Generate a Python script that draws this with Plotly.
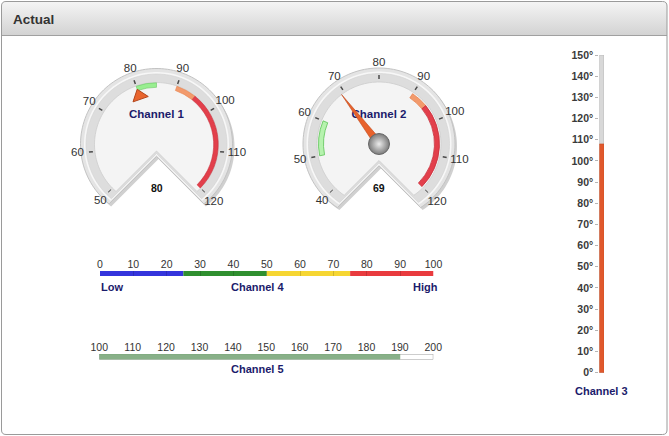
import numpy as np
import plotly.graph_objects as go

W, H = 669, 436
FONT = "Liberation Sans, Arial, sans-serif"
NAVY = "#1b1b6b"

# ---- data ----
# channel 1 (round gauge with pointer)
g1_ticks = [50, 60, 70, 80, 90, 100, 110, 120]
g1_value = 80
g1_band_from = [80, 90, 95]
g1_band_to = [85, 95, 120]
g1_band_colors = ["#98ee90", "#f29a6c", "#e23f4b"]

# channel 2 (round gauge with needle)
g2_ticks = [40, 50, 60, 70, 80, 90, 100, 110, 120]
g2_value = 69
g2_band_from = [50, 90, 95]
g2_band_to = [60, 95, 120]
g2_band_colors = ["#b6f2ae", "#f29a6c", "#e23f4b"]

# channel 4 (horizontal linear gauge)
ch4_ticks = [0, 10, 20, 30, 40, 50, 60, 70, 80, 90, 100]
ch4_from = [0, 25, 50, 75]
ch4_to = [25, 50, 75, 100]
ch4_colors = ["#3434dc", "#2f8f2f", "#f6d632", "#e93b3e"]
ch4_value = 35

# channel 5 (horizontal progress bar)
ch5_ticks = [100, 110, 120, 130, 140, 150, 160, 170, 180, 190, 200]
ch5_value = 190

# channel 3 (thermometer)
ch3_ticks = [0, 10, 20, 30, 40, 50, 60, 70, 80, 90, 100, 110, 120, 130, 140, 150]
ch3_value = 108


def fx(px):
    return px / W


def fy(py):
    return 1 - py / H


def ang(v, lo, hi):
    # gauge value -> degrees along the 270 degree dial
    return (v - lo) / (hi - lo) * 270.0


def gauge_path(cx, cy, r, a, n=120):
    # dial outline: circle of radius r with a V notch whose apex sits a px below centre
    u0 = (a - np.sqrt(2 * r * r - a * a)) / 2
    v0 = a - u0
    t0 = np.degrees(np.arctan2(-v0, u0)) + 360
    t = np.radians(np.linspace(t0, 180 - t0, n))
    xs = cx + r * np.cos(t)
    ys = cy - r * np.sin(t)
    p = "M %.2f,%.2f " % (cx, cy + a)
    p += " ".join("L %.2f,%.2f" % (x, y) for x, y in zip(xs, ys))
    return p + " Z"


def bezel(cx, cy, a_face):
    out = []
    out.append(dict(type="path", path=gauge_path(cx + 2, cy + 2.5, 76, a_face + 5.5),
                    fillcolor="#d0d0d0", line_width=0, layer="below", xref="x", yref="y"))
    out.append(dict(type="path", path=gauge_path(cx, cy, 76, a_face + 5.5),
                    fillcolor="#e4e4e4", line=dict(color="#c3c3c3", width=1), layer="below", xref="x", yref="y"))
    out.append(dict(type="path", path=gauge_path(cx, cy, 72.5, a_face + 4),
                    fillcolor="#f7f7f7", line_width=0, layer="below", xref="x", yref="y"))
    out.append(dict(type="path", path=gauge_path(cx, cy, 70.5, a_face + 2.5),
                    fillcolor="#dddddd", line=dict(color="#d2d2d2", width=0.6), layer="below", xref="x", yref="y"))
    out.append(dict(type="path", path=gauge_path(cx, cy, 62, a_face),
                    fillcolor="#f4f4f4", line=dict(color="#cdcdcd", width=0.8), layer="below", xref="x", yref="y"))
    return out


RD = 90  # radius of the polar subplot (px), big enough to hold ticks and labels


def polar_layout(cx, cy):
    return dict(
        domain=dict(x=[fx(cx - RD), fx(cx + RD)], y=[fy(cy + RD * np.sqrt(0.5)), fy(cy - RD)]),
        sector=[-45, 225],
        bgcolor="rgba(0,0,0,0)",
        barmode="overlay",
        radialaxis=dict(visible=False, range=[0, RD]),
        angularaxis=dict(visible=False, rotation=225, direction="clockwise", thetaunit="degrees",
                         showgrid=False, showline=False, ticks=""),
    )


def dial_ticks(ticks, lo, hi, R, subplot):
    rr, tt = [], []
    for v in ticks:
        rr += [R - 2.5, R + 1.5, None]
        tt += [ang(v, lo, hi)] * 2 + [None]
    return [
        go.Scatterpolar(r=rr, theta=tt, mode="lines", line=dict(color="#4a4a4a", width=1.5),
                        subplot=subplot, hoverinfo="skip"),
        go.Scatterpolar(r=[R + 13 + 1.5 * (len(str(v)) - 2) for v in ticks],
                        theta=[ang(v, lo, hi) for v in ticks], mode="text",
                        text=[str(v) for v in ticks], textfont=dict(size=11.5, color="#333"),
                        cliponaxis=False, subplot=subplot, hoverinfo="skip"),
    ]


G1 = dict(cx=156.5, cy=144.5, R=66.5, lo=50, hi=120)
G2 = dict(cx=379, cy=144, R=67.5, lo=40, hi=120)

fig = go.Figure()

# panel header gradient
fig.add_trace(go.Scatter(
    x=[2, 2, 3, 6, 663, 666, 667, 667], y=[35.5, 6, 3, 2, 2, 3, 6, 35.5],
    fill="toself", mode="lines", line_width=0, hoverinfo="skip",
    fillgradient=dict(type="vertical", colorscale=[[0, "#f4f4f4"], [1, "#d3d3d3"]], start=2, stop=35),
))

# ---- gauge 1 ----
lo, hi = G1["lo"], G1["hi"]
fig.add_traces(dial_ticks(g1_ticks, lo, hi, G1["R"], "polar"))
fig.add_trace(go.Scatterpolar(
    r=[29.5], theta=[ang((lo + hi) / 2, lo, hi)], mode="text", text=["<b>Channel 1</b>"],
    textfont=dict(size=11.5, color=NAVY), cliponaxis=False, subplot="polar", hoverinfo="skip"))
fig.add_trace(go.Barpolar(
    r=[4.5] * 3, base=[57.2] * 3,
    theta=[(ang(a, lo, hi) + ang(b, lo, hi)) / 2 for a, b in zip(g1_band_from, g1_band_to)],
    width=[ang(b, lo, hi) - ang(a, lo, hi) for a, b in zip(g1_band_from, g1_band_to)],
    marker=dict(color=g1_band_colors, line=dict(color=["#6cc866", "#e8834f", "#c8303c"], width=0.6)),
    subplot="polar", hoverinfo="skip"))
fig.add_trace(go.Scatterpolar(
    r=[51.5], theta=[ang(g1_value, lo, hi)], mode="markers",
    marker=dict(symbol="triangle-up", size=14, angle=ang(g1_value, lo, hi) - 135,
                color="#e9652e", line=dict(color="#b3461c", width=1)),
    cliponaxis=False, subplot="polar", hoverinfo="skip"))

# ---- gauge 2 ----
lo, hi = G2["lo"], G2["hi"]
t2 = ang(g2_value, lo, hi)
fig.add_traces(dial_ticks(g2_ticks, lo, hi, G2["R"], "polar2"))
fig.add_trace(go.Scatterpolar(
    r=[29], theta=[ang((lo + hi) / 2, lo, hi)], mode="text", text=["<b>Channel 2</b>"],
    textfont=dict(size=11.5, color=NAVY), cliponaxis=False, subplot="polar2", hoverinfo="skip"))
fig.add_trace(go.Barpolar(
    r=[5] * 3, base=[55.5] * 3,
    theta=[(ang(a, lo, hi) + ang(b, lo, hi)) / 2 for a, b in zip(g2_band_from, g2_band_to)],
    width=[ang(b, lo, hi) - ang(a, lo, hi) for a, b in zip(g2_band_from, g2_band_to)],
    marker=dict(color=g2_band_colors, line=dict(color=["#5cc455", "#e8834f", "#c8303c"], width=0.8)),
    subplot="polar2", hoverinfo="skip"))
fig.add_trace(go.Scatterpolar(
    r=[4, 62, 4], theta=[t2 + 90, t2, t2 - 90], mode="lines", fill="toself",
    fillcolor="#e8622c", line=dict(color="#c04a1c", width=0.6),
    subplot="polar2", hoverinfo="skip"))
fig.add_trace(go.Scatterpolar(
    r=[0], theta=[0], mode="markers",
    marker=dict(size=21, color="#7a7a7a", gradient=dict(type="radial", color="#ececec"),
                line=dict(color="#676767", width=1)),
    cliponaxis=False, subplot="polar2", hoverinfo="skip"))

# ---- channel 4 ----
fig.add_trace(go.Bar(
    orientation="h", y=[0] * 4, x=[b - a for a, b in zip(ch4_from, ch4_to)], base=ch4_from,
    width=1, marker=dict(color=ch4_colors, line_width=0), xaxis="x2", yaxis="y2", hoverinfo="skip"))
fig.add_trace(go.Scatter(
    x=[ch4_value], y=[1.4], mode="markers",
    marker=dict(symbol="triangle-down", size=10, color="#e2622c", line=dict(color="#a4441c", width=1)),
    xaxis="x2", yaxis="y2", cliponaxis=False, hoverinfo="skip"))

# ---- channel 5 ----
fig.add_trace(go.Bar(
    orientation="h", y=[0, 0], x=[ch5_ticks[-1] - ch5_ticks[0], ch5_value - ch5_ticks[0]],
    base=[ch5_ticks[0], ch5_ticks[0]], width=1,
    marker=dict(color=["white", "#88b088"], line=dict(color=["#9c9c9c", "#73a073"], width=[1, 0.5])),
    xaxis="x3", yaxis="y3", hoverinfo="skip"))

# ---- channel 3 ----
fig.add_trace(go.Bar(
    x=[0, 0], y=[ch3_ticks[-1], ch3_value], base=[0, 0], width=1,
    marker=dict(color=["#d8d8d8", "#e0582c"], line=dict(color=["#bdbdbd", "#c94b22"], width=[1, 0.6])),
    xaxis="x4", yaxis="y4", hoverinfo="skip"))

shapes = []
shapes += bezel(G1["cx"], G1["cy"], 6.5)
shapes += bezel(G2["cx"], G2["cy"], 16.5)
shapes.append(dict(type="line", x0=1.5, x1=667, y0=35.5, y1=35.5, xref="x", yref="y",
                   line=dict(color="#a0a0a0", width=1)))
shapes.append(dict(type="path", xref="x", yref="y", layer="above",
                   path="M 1.5,6 Q 1.5,1.5 6,1.5 L 662.5,1.5 Q 667,1.5 667,6 L 667,430 "
                        "Q 667,434.5 662.5,434.5 L 6,434.5 Q 1.5,434.5 1.5,430 Z",
                   line=dict(color="#9a9a9a", width=1)))


def label(text, x, y, size=11, color=NAVY, anchor="center"):
    return dict(text="<b>%s</b>" % text, x=x, y=y, xref="x", yref="y", showarrow=False,
                xanchor=anchor, yanchor="middle", font=dict(size=size, color=color))


annotations = [
    label("Actual", 11, 19, size=13.5, color="#333", anchor="left"),
    label(str(g1_value), G1["cx"], 188, size=10.5, color="#111"),
    label(str(g2_value), G2["cx"], 188, size=10.5, color="#111"),
    label("Low", 99, 287, anchor="left"),
    label("Channel 4", 257, 287),
    label("High", 440, 287, anchor="right"),
    label("Channel 5", 257, 369),
    label("Channel 3", 601, 391),
]

fig.update_layout(
    template="none",
    width=W, height=H, margin=dict(l=0, r=0, t=0, b=0, pad=0, autoexpand=False),
    paper_bgcolor="white", plot_bgcolor="rgba(0,0,0,0)",
    showlegend=False, font=dict(family=FONT, color="#333"),
    xaxis=dict(range=[0, W], domain=[0, 1], visible=False, fixedrange=True, automargin=False),
    yaxis=dict(range=[H, 0], domain=[0, 1], visible=False, fixedrange=True, automargin=False),
    polar=polar_layout(G1["cx"], G1["cy"]),
    polar2=polar_layout(G2["cx"], G2["cy"]),
    xaxis2=dict(domain=[fx(100), fx(433.5)], range=[0, 100], anchor="y2", side="top",
                tickmode="array", tickvals=ch4_ticks, ticks="inside", ticklen=5,
                tickcolor="rgba(0,0,0,0.15)", showgrid=False, zeroline=False, showline=False,
                tickfont=dict(size=10.5, color="#333"), fixedrange=True, automargin=False),
    yaxis2=dict(domain=[fy(276), fy(271)], range=[-0.5, 0.5], anchor="x2", visible=False),
    xaxis3=dict(domain=[fx(99.3), fx(433.3)], range=[100, 200], anchor="y3", side="top",
                tickmode="array", tickvals=ch5_ticks, ticks="", showgrid=False, zeroline=False,
                showline=False, tickfont=dict(size=10.5, color="#333"), fixedrange=True, automargin=False),
    yaxis3=dict(domain=[fy(359.5), fy(354)], range=[-0.5, 0.5], anchor="x3", visible=False),
    xaxis4=dict(domain=[fx(599.3), fx(604)], range=[-0.5, 0.5], anchor="y4", visible=False),
    yaxis4=dict(domain=[fy(372.7), fy(55)], range=[0, 150], anchor="x4", side="left",
                tickmode="array", tickvals=ch3_ticks, ticktext=["%d°" % v for v in ch3_ticks],
                ticks="outside", ticklen=3,
                tickcolor="#b5b5b5", showgrid=False, zeroline=False, showline=False,
                tickfont=dict(size=10.5, color="#3a3a3a", weight="bold"), fixedrange=True, automargin=False),
    shapes=shapes,
    annotations=annotations,
)

fig.write_html("out.html", config={"displayModeBar": False},
               post_script="document.body.style.margin='0px';")
